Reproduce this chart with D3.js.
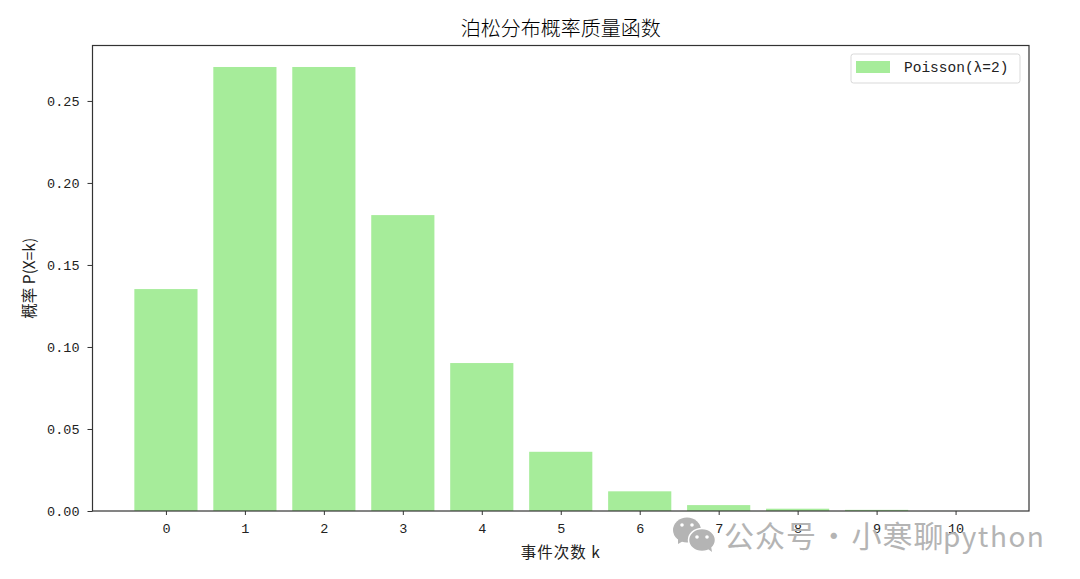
<!DOCTYPE html>
<html>
<head>
<meta charset="utf-8">
<script src="https://cdn.jsdelivr.net/npm/d3@7"></script>
<style>
    html, body { margin: 0; padding: 0; background: #fff; }
    svg { display: block; }
    text { font-family: "Liberation Mono", "Noto Sans CJK SC", monospace; fill: #222; }
    .cjk { font-family: "Noto Sans CJK SC", sans-serif; }
</style>
</head>
<body>
<svg id="chart" width="1080" height="579"></svg>
<script>
(function () {
    "use strict";

    var kValues = [0, 1, 2, 3, 4, 5, 6, 7, 8, 9, 10];
    var probabilities = [0.1353, 0.2707, 0.2707, 0.1804, 0.0902, 0.0361, 0.0120, 0.0036, 0.0014, 0.0007, 0.00004];
    var yTicks = [0, 0.05, 0.10, 0.15, 0.20, 0.25];
    var titleText = '泊松分布概率质量函数';
    var xLabelText = '事件次数 k';
    var yLabelText = '概率 P(X=k)';
    var legendText = 'Poisson(λ=2)';
    var watermarkCjk = '公众号 · 小寒聊';
    var watermarkLatin = 'python';

    var left = 92.5, right = 1029, top = 45.5, bottom = 511;
    var barColor = '#a6ec9a';
    var axisColor = '#333';

    var svg = d3.select('#chart');

    var x = d3.scaleLinear().domain([-0.93, 10.93]).range([left, right]);
    var y = d3.scaleLinear().domain([0, 0.2838]).range([bottom, top]);
    var barWidth = x(0.8) - x(0);

    svg.append('g')
        .selectAll('rect')
        .data(probabilities)
        .join('rect')
        .attr('x', function (d, i) { return x(kValues[i]) - barWidth / 2; })
        .attr('y', function (d) { return y(d); })
        .attr('width', barWidth)
        .attr('height', function (d) { return bottom - y(d); })
        .attr('fill', barColor);

    var styleAxis = function ($axis) {
        $axis.select('.domain').remove();
        $axis.selectAll('line').attr('stroke', axisColor).attr('stroke-width', 1);
        $axis.selectAll('text').attr('fill', '#222').style('font-size', '13.5px');
    };

    var xAxis = d3.axisBottom(x).tickValues(kValues).tickFormat(d3.format('d')).tickSize(4).tickPadding(8);
    svg.append('g')
        .attr('transform', 'translate(0,' + bottom + ')')
        .call(xAxis)
        .call(styleAxis);

    var yAxis = d3.axisLeft(y).tickValues(yTicks).tickFormat(d3.format('.2f')).tickSize(5).tickPadding(8);
    svg.append('g')
        .attr('transform', 'translate(' + left + ',0)')
        .call(yAxis)
        .call(styleAxis);

    svg.append('rect')
        .attr('x', left)
        .attr('y', top)
        .attr('width', right - left)
        .attr('height', bottom - top)
        .attr('fill', 'none')
        .attr('stroke', axisColor)
        .attr('stroke-width', 1.2);

    svg.append('text')
        .attr('class', 'cjk')
        .attr('x', (left + right) / 2)
        .attr('y', 36)
        .attr('text-anchor', 'middle')
        .style('font-size', '20px')
        .style('font-weight', 300)
        .style('fill', '#000')
        .text(titleText);

    svg.append('text')
        .attr('class', 'cjk')
        .attr('x', (left + right) / 2)
        .attr('y', 558)
        .attr('text-anchor', 'middle')
        .style('font-size', '15.5px')
        .style('letter-spacing', '1px')
        .text(xLabelText);

    svg.append('text')
        .attr('class', 'cjk')
        .attr('transform', 'translate(35,' + (top + bottom) / 2 + ') rotate(-90)')
        .attr('text-anchor', 'middle')
        .style('font-size', '15.5px')
        .text(yLabelText);

    // legend
    var $legend = svg.append('g');
    $legend.append('rect')
        .attr('x', 851).attr('y', 54)
        .attr('width', 169).attr('height', 29)
        .attr('rx', 2.5)
        .attr('fill', '#fff')
        .attr('stroke', '#d9d9d9');
    $legend.append('rect')
        .attr('x', 856).attr('y', 61)
        .attr('width', 34).attr('height', 12)
        .attr('fill', barColor);
    $legend.append('text')
        .attr('x', 904).attr('y', 72)
        .style('font-size', '14.5px')
        .text(legendText);

    // watermark on top of the chart
    var $mark = svg.append('g').attr('fill', '#b4b4b4');
    $mark.append('ellipse').attr('cx', 687).attr('cy', 530).attr('rx', 14).attr('ry', 12.5);
    $mark.append('path').attr('d', 'M678 538 L678 544 L685 540 Z');
    $mark.append('ellipse').attr('cx', 702).attr('cy', 540).attr('rx', 13.5).attr('ry', 11.5).attr('stroke', '#fff').attr('stroke-width', 1.5);
    $mark.append('path').attr('d', 'M708 549 L712 552 L711 546 Z');
    [[682, 525], [692, 525], [697, 537], [707, 537]].forEach(function (p) {
        $mark.append('circle').attr('cx', p[0]).attr('cy', p[1]).attr('r', 1.8).attr('fill', '#fff');
    });
    var $markText = svg.append('text')
        .attr('y', 547)
        .style('font-family', '"Noto Sans CJK SC", sans-serif')
        .style('fill', '#b4b4b4');
    $markText.append('tspan')
        .attr('x', 724)
        .style('font-size', '30px')
        .style('letter-spacing', '1px')
        .style('word-spacing', '-6px')
        .text(watermarkCjk);
    $markText.append('tspan')
        .attr('x', 943)
        .style('font-size', '28px')
        .style('letter-spacing', '1.5px')
        .text(watermarkLatin);
})();
</script>
</body>
</html>
